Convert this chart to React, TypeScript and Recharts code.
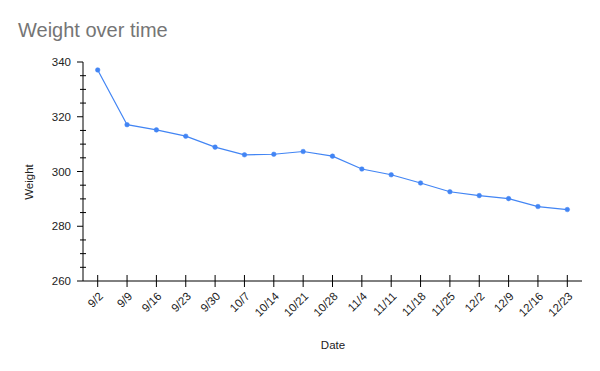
import React from "react";
import { LineChart, Line, XAxis, YAxis } from "recharts";

const DATES = ["9/2", "9/9", "9/16", "9/23", "9/30", "10/7", "10/14", "10/21", "10/28", "11/4", "11/11", "11/18", "11/25", "12/2", "12/9", "12/16", "12/23"];
const WEIGHTS = [337.1, 317.1, 315.2, 312.9, 308.9, 306.1, 306.3, 307.3, 305.6, 300.9, 298.8, 295.8, 292.6, 291.2, 290.1, 287.2, 286.1];
const Y_TICKS = [260, 265, 270, 275, 280, 285, 290, 295, 300, 305, 310, 315, 320, 325, 330, 335, 340];

const data = DATES.map((d, i) => ({ date: d, weight: WEIGHTS[i] }));

const FONT = "Arial, 'Liberation Sans', sans-serif";
const AXIS_X = 83;
const AXIS_Y = 281;

function YTick(props: any) {
  const { y, payload } = props;
  const v = payload.value;
  const major = v % 20 === 0;
  return (
    <g>
      {major ? (
        <>
          <line x1={AXIS_X - 6} x2={AXIS_X} y1={y} y2={y} stroke="#000" />
          <text x={AXIS_X - 12} y={y + 4} textAnchor="end" fontSize={11.5} fontFamily={FONT} fill="#222">
            {v}
          </text>
        </>
      ) : (
        <line x1={AXIS_X - 3} x2={AXIS_X + 3} y1={y} y2={y} stroke="#000" />
      )}
    </g>
  );
}

function XTick(props: any) {
  const { x, payload } = props;
  const ax = x + 6;
  const ay = AXIS_Y + 16;
  return (
    <g>
      <line x1={x} x2={x} y1={AXIS_Y - 6} y2={AXIS_Y + 6} stroke="#000" />
      <text
        x={ax}
        y={ay}
        textAnchor="end"
        fontSize={11.5}
        fontFamily={FONT}
        fill="#222"
        transform={`rotate(-45 ${ax} ${ay})`}
      >
        {payload.value}
      </text>
    </g>
  );
}

export default function App() {
  return (
    <div style={{ position: "absolute", left: 0, top: 0, width: 600, height: 371, background: "#fff", fontFamily: FONT }}>
      <div style={{ position: "absolute", left: 18, top: 20, fontSize: 20, color: "#757575", lineHeight: "20px", whiteSpace: "nowrap" }}>
        Weight over time
      </div>
      <div
        style={{
          position: "absolute",
          left: 29,
          top: 182,
          fontSize: 11.5,
          color: "#222",
          transform: "translate(-50%, -50%) rotate(-90deg)",
          whiteSpace: "nowrap",
        }}
      >
        Weight
      </div>
      <div style={{ position: "absolute", left: 333, top: 345, fontSize: 11.5, color: "#222", transform: "translate(-50%, -50%)" }}>
        Date
      </div>
      <LineChart width={600} height={371} data={data} margin={{ top: 62, right: 18, bottom: 80, left: 73 }}>
        <XAxis
          dataKey="date"
          height={10}
          interval={0}
          padding={{ left: 14.7, right: 14.7 }}
          tickLine={false}
          axisLine={{ stroke: "#000" }}
          tick={<XTick />}
        />
        <YAxis
          width={10}
          domain={[260, 340]}
          ticks={Y_TICKS}
          interval={0}
          tickLine={false}
          axisLine={{ stroke: "#000" }}
          tick={<YTick />}
        />
        <Line
          type="linear"
          dataKey="weight"
          stroke="#4285f4"
          strokeWidth={1.2}
          dot={{ r: 2.3, fill: "#4285f4", stroke: "#4285f4", strokeWidth: 0.5 }}
          isAnimationActive={false}
        />
      </LineChart>
    </div>
  );
}
